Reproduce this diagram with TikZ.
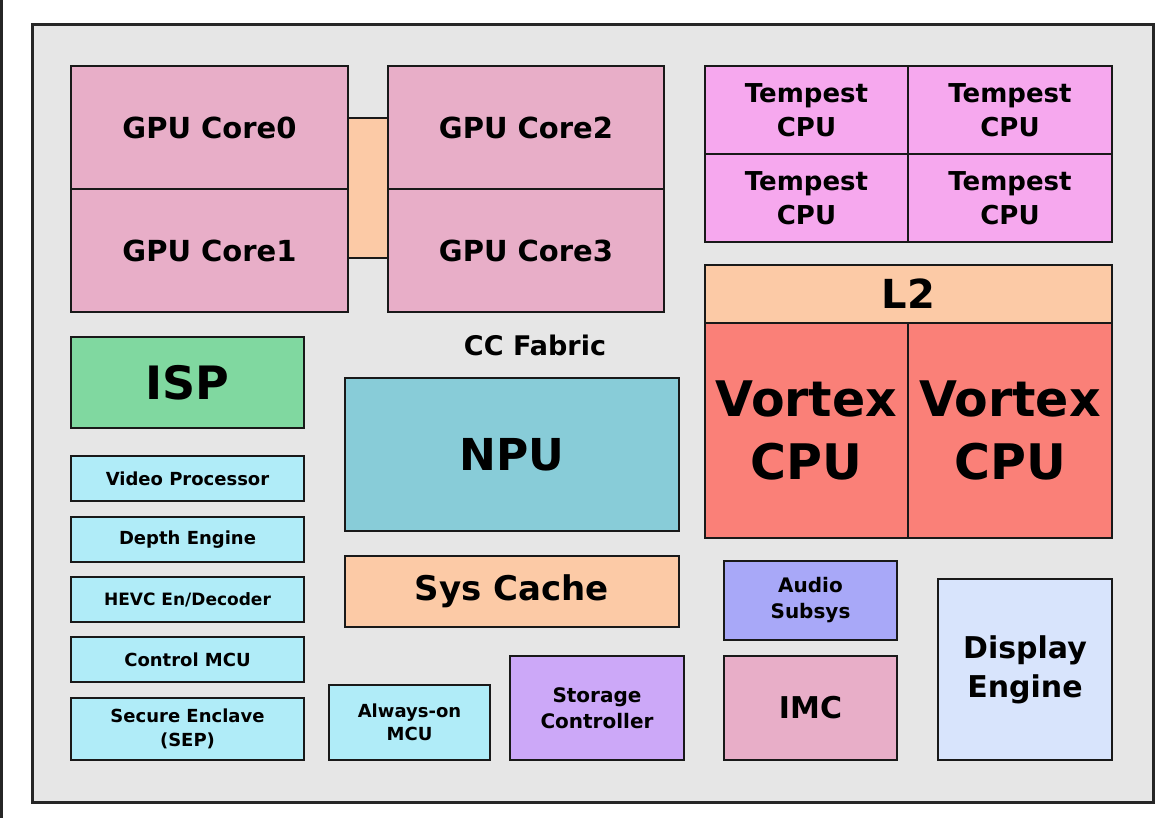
\documentclass[tikz,border=0pt]{standalone}
\usepackage{fontspec}
\setmainfont{DejaVu Sans}
\definecolor{bg}{HTML}{E6E6E6}
\definecolor{gpu}{HTML}{E8AEC8}
\definecolor{peach}{HTML}{FCCAA6}
\definecolor{temp}{HTML}{F6A8EE}
\definecolor{vort}{HTML}{FA8078}
\definecolor{isp}{HTML}{80D8A0}
\definecolor{npu}{HTML}{88CCD8}
\definecolor{cyan}{HTML}{B0ECF8}
\definecolor{lav}{HTML}{CCA8F8}
\definecolor{aud}{HTML}{A8A8F8}
\definecolor{disp}{HTML}{D8E4FC}
\newcommand\blk[8]{\node[box,fill=#6,font=\bfseries\fontsize{#8pt}{\dimexpr #8pt*13/10\relax}\selectfont,minimum width={(#4-#2)*1pt},minimum height={(#5-#3)*1pt}] (#1) at ({(#2+#4)/2},{(#3+#5)/2}) {#7};}
\begin{document}
\begin{tikzpicture}[x=1pt,y=-1pt,box/.style={draw=black!90,line width=2.8pt,inner sep=0pt,align=center,text=black}]
\useasboundingbox (0,0) rectangle (1175,818);
\fill[white] (0,0) rectangle (1175,818);
\fill[black!85] (0,0) rectangle (3,818);
\node[draw=black!85,line width=3pt,fill=bg,minimum width=1121pt,minimum height=777pt,inner sep=0pt] (chip) at (592.5,413.5) {};
\blk{link}{348}{118}{388}{258}{peach}{}{10}
\blk{g0}{71}{66}{348}{189}{gpu}{GPU Core0}{29}
\blk{g1}{71}{189}{348}{312}{gpu}{GPU Core1}{29}
\blk{g2}{388}{66}{664}{189}{gpu}{GPU Core2}{29}
\blk{g3}{388}{189}{664}{312}{gpu}{GPU Core3}{29}
\blk{t0}{705}{66}{908}{154}{temp}{Tempest\\CPU}{26}
\blk{t1}{908}{66}{1112}{154}{temp}{Tempest\\CPU}{26}
\blk{t2}{705}{154}{908}{242}{temp}{Tempest\\CPU}{26}
\blk{t3}{908}{154}{1112}{242}{temp}{Tempest\\CPU}{26}
\blk{l2}{705}{265}{1112}{323}{peach}{L2}{40}
\blk{v0}{705}{323}{908}{538}{vort}{Vortex\\CPU}{49}
\blk{v1}{908}{323}{1112}{538}{vort}{Vortex\\CPU}{49}
\node[font=\bfseries\fontsize{27}{27}\selectfont] (ccf) at (535,345) {CC Fabric};
\blk{isp}{71}{337}{304}{428}{isp}{ISP}{46}
\blk{npu}{345}{378}{679}{531}{npu}{NPU}{44}
\blk{vid}{71}{456}{304}{501}{cyan}{Video Processor}{18}
\blk{dep}{71}{517}{304}{562}{cyan}{Depth Engine}{18}
\blk{hevc}{71}{577}{304}{622}{cyan}{HEVC En/Decoder}{17}
\blk{mcu}{71}{637}{304}{682}{cyan}{Control MCU}{18}
\blk{sep}{71}{698}{304}{760}{cyan}{Secure Enclave\\(SEP)}{18}
\blk{sc}{345}{556}{679}{627}{peach}{Sys Cache}{34}
\blk{aon}{329}{685}{490}{760}{cyan}{Always-on\\MCU}{18}
\blk{stor}{510}{656}{684}{760}{lav}{Storage\\Controller}{20}
\blk{aud}{724}{561}{897}{640}{aud}{Audio\\Subsys}{20}
\blk{imc}{724}{656}{897}{760}{gpu}{IMC}{30}
\blk{disp}{938}{579}{1112}{760}{disp}{Display\\Engine}{30}
\end{tikzpicture}
\end{document}
